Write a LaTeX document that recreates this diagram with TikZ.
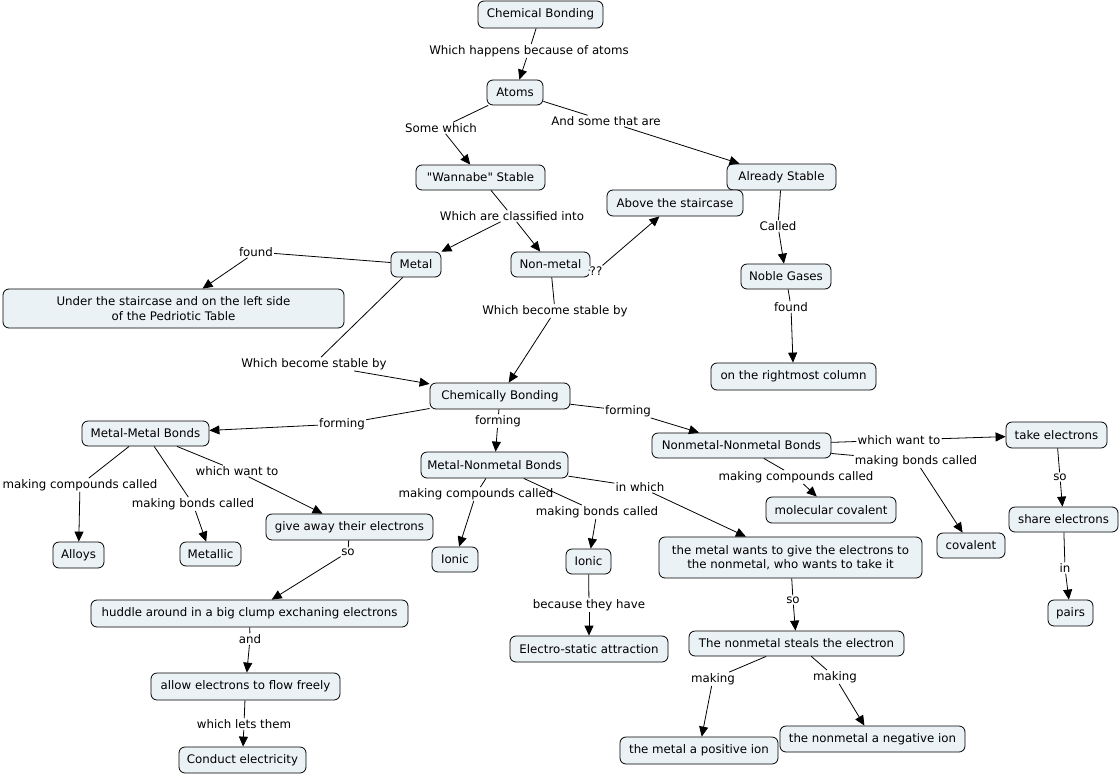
\documentclass[tikz,border=0pt]{standalone}
\usepackage{fontspec}
\setmainfont{DejaVu Sans}[Ligatures=TeXOff]
\usetikzlibrary{arrows.meta}
\definecolor{cfill}{RGB}{235,242,245}
\tikzset{
  every node/.style={font=\fontsize{11.8}{14.5}\selectfont},
  concept/.style={draw=black, line width=0.8pt, fill=cfill, rounded corners=6pt, align=center, inner sep=0pt},
  lbl/.style={fill=white, inner sep=1pt},
  link/.style={line width=0.8pt},
  arr/.style={line width=0.8pt, -{Triangle[length=10pt,width=9pt]}},
}
\newcommand{\cnode}[6]{\node[concept, minimum width=#4pt, minimum height=#5pt] (#1) at (#2,#3) {#6};}
\begin{document}
\begin{tikzpicture}[x=1pt,y=-1pt]
\fill[white] (0,0) rectangle (1120,777);
\useasboundingbox (0,0) rectangle (1120,777);
% concepts
\cnode{cb}{540.5}{14.5}{125}{27}{Chemical Bonding}
\cnode{atoms}{515}{92.5}{56}{25}{Atoms}
\cnode{wannabe}{480.5}{177.5}{129}{25}{"Wannabe" Stable}
\cnode{already}{781.5}{177}{109}{26}{Already Stable}
\cnode{above}{675}{203}{136}{26}{Above the staircase}
\cnode{metal}{416}{264.5}{50}{25}{Metal}
\cnode{nonmetal}{550.5}{264.5}{79}{25}{Non-metal}
\cnode{noble}{786}{276.5}{90}{25}{Noble Gases}
\cnode{under}{173.5}{308.5}{341}{39}{Under the staircase and on the left side\\ of the Pedriotic Table}
\cnode{rightmost}{793.5}{376.5}{165}{27}{on the rightmost column}
\cnode{chembond}{500}{396}{140}{26}{Chemically Bonding}
\cnode{mm}{145.5}{433.5}{127}{25}{Metal-Metal Bonds}
\cnode{nn}{741.5}{445.5}{179}{25}{Nonmetal-Nonmetal Bonds}
\cnode{take}{1056.5}{435}{101}{26}{take electrons}
\cnode{mn}{494.5}{465}{147}{26}{Metal-Nonmetal Bonds}
\cnode{molcov}{831}{510}{130}{26}{molecular covalent}
\cnode{give}{349.5}{527}{167}{26}{give away their electrons}
\cnode{alloys}{78.5}{555}{51}{26}{Alloys}
\cnode{metallic}{210.5}{554}{61}{24}{Metallic}
\cnode{ionica}{455}{559.5}{46}{25}{Ionic}
\cnode{ionicb}{588.5}{561.5}{45}{25}{Ionic}
\cnode{wants}{790.5}{557.5}{263}{41}{the metal wants to give the electrons to\\ the nonmetal, who wants to take it}
\cnode{covalent}{971}{545.5}{68}{25}{covalent}
\cnode{share}{1063.5}{519.5}{109}{25}{share electrons}
\cnode{huddle}{249.5}{613.5}{317}{27}{huddle around in a big clump exchaning electrons}
\cnode{electro}{589}{649}{158}{26}{Electro-static attraction}
\cnode{steals}{796.5}{643.5}{215}{25}{The nonmetal steals the electron}
\cnode{pairs}{1070.5}{613}{45}{26}{pairs}
\cnode{allow}{245.5}{686.5}{189}{27}{allow electrons to flow freely}
\cnode{conduct}{242.5}{760}{127}{26}{Conduct electricity}
\cnode{positive}{699}{750.5}{158}{27}{the metal a positive ion}
\cnode{negative}{872.5}{739}{185}{26}{the nonmetal a negative ion}
% linking phrases
\node[lbl] (l1) at (529,51) {Which happens because of atoms};
\node[lbl] (l2) at (441,128) {Some which};
\node[lbl] (l3) at (606,121) {And some that are};
\node[lbl] (l4) at (512,216) {Which are classified into};
\node[lbl] (l5) at (256,252) {found};
\node[lbl] (l6) at (596,271) {??};
\node[lbl] (l7) at (555,311) {Which become stable by};
\node[lbl] (l8) at (778,226) {Called};
\node[lbl] (l9) at (791,307) {found};
\node[lbl] (l10) at (314,364) {Which become stable by};
\node[lbl] (f1) at (342,424) {forming};
\node[lbl] (f2) at (498,421) {forming};
\node[lbl] (f3) at (628,411) {forming};
\node[lbl] (m1) at (80,485) {making compounds called};
\node[lbl] (m2) at (193,504) {making bonds called};
\node[lbl] (m3) at (237,471) {which want to};
\node[lbl] (m4) at (476,494) {making compounds called};
\node[lbl] (m5) at (597,512) {making bonds called};
\node[lbl] (m6) at (640,487) {in which};
\node[lbl] (n1) at (899,440) {which want to};
\node[lbl] (n2) at (916,461) {making bonds called};
\node[lbl] (n3) at (796,477) {making compounds called};
\node[lbl] (s1) at (1060,477) {so};
\node[lbl] (s2) at (1065,568) {in};
\node[lbl] (s3) at (348,552) {so};
\node[lbl] (s4) at (250,639) {and};
\node[lbl] (s5) at (244,724) {which lets them};
\node[lbl] (s6) at (589,605) {because they have};
\node[lbl] (s7) at (793,600) {so};
\node[lbl] (s8) at (713,679) {making};
\node[lbl] (s9) at (835,677) {making};
% connectors
\draw[link] (cb) -- (l1); \draw[arr] (l1) -- (atoms);
\draw[link] (atoms) -- (l2); \draw[arr] (l2) -- (wannabe);
\draw[link] (atoms) -- (l3); \draw[arr] (l3) -- (already);
\draw[link] (wannabe) -- (l4); \draw[arr] (l4) -- (metal); \draw[arr] (l4) -- (nonmetal);
\draw[link] (metal) -- (l5); \draw[arr] (l5) -- (under);
\draw[link] (nonmetal) -- (l6); \draw[arr] (l6) -- (above);
\draw[link] (nonmetal) -- (l7); \draw[arr] (l7) -- (chembond);
\draw[link] (already) -- (l8); \draw[arr] (l8) -- (noble);
\draw[link] (noble) -- (l9); \draw[arr] (l9) -- (rightmost);
\draw[link] (metal) -- (l10); \draw[arr] (l10) -- (chembond);
\draw[link] (chembond) -- (f1); \draw[arr] (f1) -- (mm);
\draw[link] (chembond) -- (f2); \draw[arr] (f2) -- (mn);
\draw[link] (chembond) -- (f3); \draw[arr] (f3) -- (nn);
\draw[link] (mm) -- (m1); \draw[arr] (m1) -- (alloys);
\draw[link] (mm) -- (m2); \draw[arr] (m2) -- (metallic);
\draw[link] (mm) -- (m3); \draw[arr] (m3) -- (give);
\draw[link] (mn) -- (m4); \draw[arr] (m4) -- (ionica);
\draw[link] (mn) -- (m5); \draw[arr] (m5) -- (ionicb);
\draw[link] (mn) -- (m6); \draw[arr] (m6) -- (wants);
\draw[link] (nn) -- (n1); \draw[arr] (n1) -- (take);
\draw[link] (nn) -- (n2); \draw[arr] (n2) -- (covalent);
\draw[link] (nn) -- (n3); \draw[arr] (n3) -- (molcov);
\draw[link] (take) -- (s1); \draw[arr] (s1) -- (share);
\draw[link] (share) -- (s2); \draw[arr] (s2) -- (pairs);
\draw[link] (give) -- (s3); \draw[arr] (s3) -- (huddle);
\draw[link] (huddle) -- (s4); \draw[arr] (s4) -- (allow);
\draw[link] (allow) -- (s5); \draw[arr] (s5) -- (conduct);
\draw[link] (ionicb) -- (s6); \draw[arr] (s6) -- (electro);
\draw[link] (wants) -- (s7); \draw[arr] (s7) -- (steals);
\draw[link] (steals) -- (s8); \draw[arr] (s8) -- (positive);
\draw[link] (steals) -- (s9); \draw[arr] (s9) -- (negative);
\end{tikzpicture}
\end{document}
